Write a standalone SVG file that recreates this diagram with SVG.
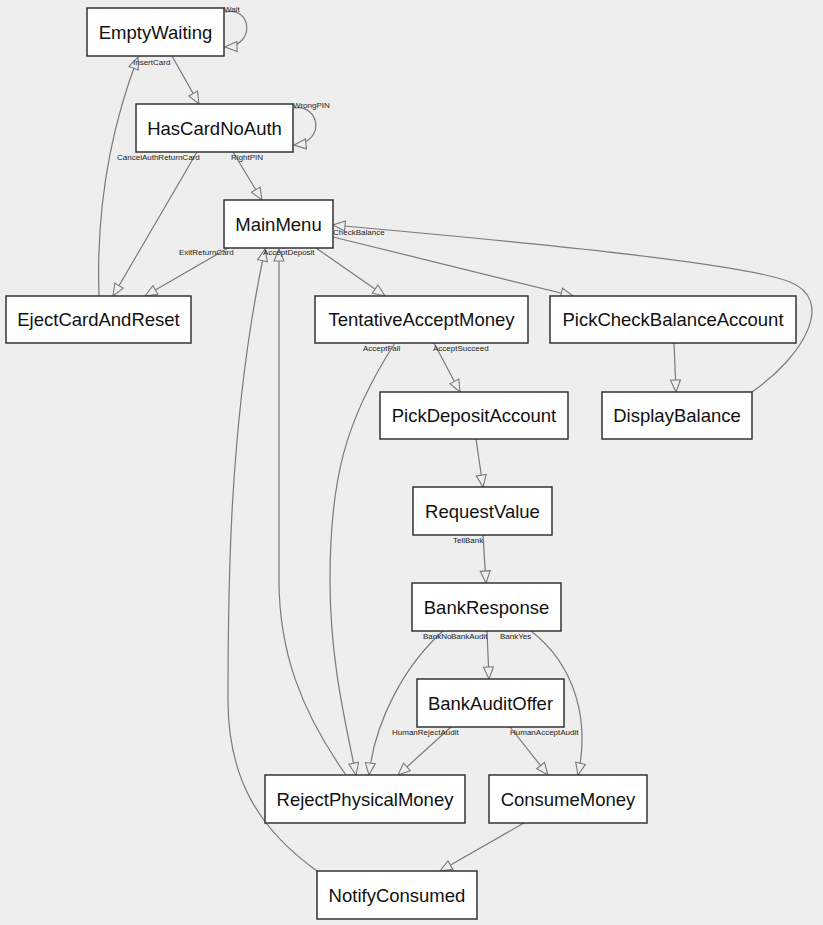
<svg xmlns="http://www.w3.org/2000/svg" width="823" height="925" viewBox="0 0 823 925">
<defs>
<style>
.node rect{fill:#ffffff;stroke:#333333;stroke-width:1.5}
.node text{font-family:"Liberation Sans",Arial,sans-serif;font-size:18.5px;fill:#111111;text-anchor:middle;dominant-baseline:central}
.edges path{fill:none;stroke:#7a7a7a;stroke-width:1.2;marker-end:url(#arr)}
.lbl text{font-family:"Liberation Sans",Arial,sans-serif;font-size:8px;fill:#222222}
</style>
<marker id="arr" markerUnits="userSpaceOnUse" markerWidth="14" markerHeight="12" viewBox="0 0 14 12" refX="13" refY="6" orient="auto">
<path d="M1,1 L13,6 L1,11 z" fill="#eeeeee" stroke="#7a7a7a" stroke-width="1.1"/>
</marker>
</defs>
<rect width="823" height="925" fill="#eeeeee"/>
<g class="edges">
<path d="M225,12 C252,6 256,46 225,47"/>
<path d="M172,56 L199,104"/>
<path d="M99,296 C96,210 110,130 138,57"/>
<path d="M294,108 C320,104 326,142 294,145"/>
<path d="M233,152 L262,200"/>
<path d="M197,152 L113,296"/>
<path d="M228,248 L145,296"/>
<path d="M316,248 L385,296"/>
<path d="M333,237 L573,296"/>
<path d="M752,392 C805,355 835,300 790,282 C740,262 500,240 333,225"/>
<path d="M674,343 L676,392"/>
<path d="M434,343 L460,392"/>
<path d="M395,343 C345,420 330,480 330,580 C330,660 345,720 356,775"/>
<path d="M346,775 C300,710 279,650 279,580 L279,249"/>
<path d="M317,871 C260,830 228,780 228,700 C228,600 228,420 265,249"/>
<path d="M476,439 L483,487"/>
<path d="M483,535 L486,583"/>
<path d="M443,631 C405,665 375,720 369,775"/>
<path d="M487,631 L489,679"/>
<path d="M531,631 C575,665 590,720 578,775"/>
<path d="M451,727 L398,775"/>
<path d="M510,727 L548,775"/>
<path d="M524,823 L440,871"/>
</g>
<g class="lbl">
<text x="224" y="12">Wait</text>
<text x="133" y="65">InsertCard</text>
<text x="293" y="108">WrongPIN</text>
<text x="231" y="160">RightPIN</text>
<text x="117" y="160">CancelAuthReturnCard</text>
<text x="179" y="255">ExitReturnCard</text>
<text x="263" y="255">AcceptDeposit</text>
<text x="333" y="235">CheckBalance</text>
<text x="363" y="351">AcceptFail</text>
<text x="433" y="351">AcceptSucceed</text>
<text x="453" y="543">TellBank</text>
<text x="423" y="639">BankNo</text>
<text x="451" y="639">BankAudit</text>
<text x="500" y="639">BankYes</text>
<text x="392" y="735">HumanRejectAudit</text>
<text x="510" y="735">HumanAcceptAudit</text>
</g>
<g id="EmptyWaiting" class="node"><rect x="87" y="8" width="137" height="48"/><text x="155.5" y="32">EmptyWaiting</text></g>
<g id="HasCardNoAuth" class="node"><rect x="136" y="104" width="157" height="48"/><text x="214.5" y="128">HasCardNoAuth</text></g>
<g id="MainMenu" class="node"><rect x="224" y="200" width="109" height="48"/><text x="278.5" y="224">MainMenu</text></g>
<g id="EjectCardAndReset" class="node"><rect x="6" y="296" width="185" height="47"/><text x="98.5" y="319.5">EjectCardAndReset</text></g>
<g id="TentativeAcceptMoney" class="node"><rect x="315" y="296" width="213" height="47"/><text x="421.5" y="319.5">TentativeAcceptMoney</text></g>
<g id="PickCheckBalanceAccount" class="node"><rect x="550" y="296" width="246" height="47"/><text x="673" y="319.5">PickCheckBalanceAccount</text></g>
<g id="PickDepositAccount" class="node"><rect x="380" y="392" width="188" height="47"/><text x="474" y="415.5">PickDepositAccount</text></g>
<g id="DisplayBalance" class="node"><rect x="602" y="392" width="150" height="47"/><text x="677" y="415.5">DisplayBalance</text></g>
<g id="RequestValue" class="node"><rect x="413" y="487" width="139" height="48"/><text x="482.5" y="511">RequestValue</text></g>
<g id="BankResponse" class="node"><rect x="412" y="583" width="149" height="48"/><text x="486.5" y="607">BankResponse</text></g>
<g id="BankAuditOffer" class="node"><rect x="417" y="679" width="147" height="48"/><text x="490.5" y="703">BankAuditOffer</text></g>
<g id="RejectPhysicalMoney" class="node"><rect x="265" y="775" width="200" height="48"/><text x="365" y="799">RejectPhysicalMoney</text></g>
<g id="ConsumeMoney" class="node"><rect x="489" y="775" width="158" height="48"/><text x="568" y="799">ConsumeMoney</text></g>
<g id="NotifyConsumed" class="node"><rect x="317" y="871" width="160" height="48"/><text x="397" y="895">NotifyConsumed</text></g>
</svg>
